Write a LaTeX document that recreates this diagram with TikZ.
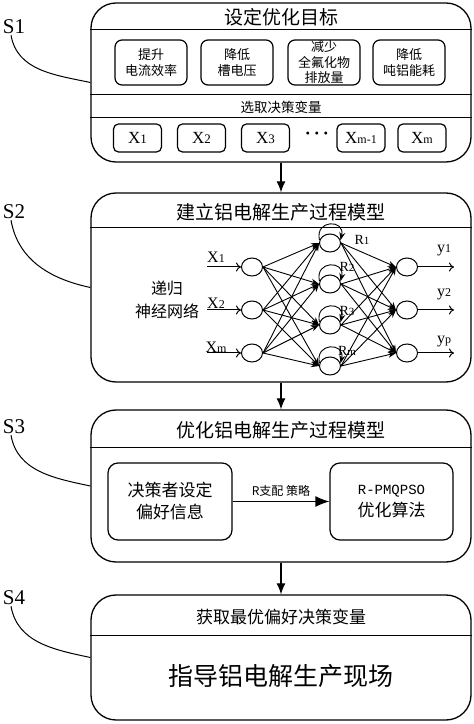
\documentclass[tikz,border=0pt]{standalone}
\usepackage{fontspec}
\setmainfont{Liberation Serif}
\newfontfamily\cjk{Noto Sans CJK SC}
\newfontfamily\monofnt{Liberation Mono}
\usetikzlibrary{shapes.geometric,arrows.meta}
\begin{document}
\begin{tikzpicture}[x=1pt,y=1pt,
  mainbox/.style={draw, line width=1.3pt, rounded corners=25pt, inner sep=0pt, minimum width=380pt},
  innerbox/.style={draw, line width=1.2pt, rounded corners=7pt, align=center, inner sep=0pt},
  goalbox/.style={innerbox, minimum width=72pt, minimum height=45pt, font=\cjk\fontsize{13}{15.5}\selectfont},
  xbox/.style={innerbox, rounded corners=5pt, minimum width=48pt, minimum height=28pt, font=\fontsize{17}{17}\selectfont},
  title/.style={font=\cjk\fontsize{19}{22}\selectfont},
  neuron/.style={draw, ellipse, minimum width=21pt, minimum height=18pt, inner sep=0pt, line width=1pt},
  flow/.style={-{Latex[length=11pt,width=9pt]}, line width=1.2pt},
  net/.style={-{Stealth[length=8pt,width=6pt]}, line width=0.9pt},
  io/.style={-{To[length=5pt,width=9pt]}, line width=1pt},
  steplbl/.style={font=\fontsize{21}{21}\selectfont, inner sep=1pt},
  lead/.style={line width=1pt},
  netlbl/.style={font=\fontsize{16}{16}\selectfont, inner sep=0pt},
  rlbl/.style={font=\fontsize{14}{14}\selectfont, inner sep=0pt}
]
\useasboundingbox (0,0) rectangle (474,724);
\fill[white] (0,0) rectangle (474,724);

% ---------- S1 ----------
\node[mainbox, minimum height=159pt] (b1) at (281,641.5) {};
\node[title] (t1) at (281,707) {设定优化目标};
\draw[line width=1.2pt] ([yshift=-27pt]b1.north west) -- ([yshift=-27pt]b1.north east);
\draw[line width=1.2pt] ([yshift=-92pt]b1.north west) -- ([yshift=-92pt]b1.north east);
\draw[line width=1.2pt] ([yshift=-115pt]b1.north west) -- ([yshift=-115pt]b1.north east);
\node[goalbox] (g1) at (151,661.5) {提升\\电流效率};
\node[goalbox] (g2) at (237,661.5) {降低\\槽电压};
\node[goalbox] (g3) at (324,661.5) {减少\\全氟化物\\排放量};
\node[goalbox] (g4) at (409,661.5) {降低\\吨铝能耗};
\node[font=\cjk\fontsize{13.5}{15}\selectfont] (t1b) at (281,617) {选取决策变量};
\node[xbox] (x1) at (137.5,586) {X{\fontsize{13}{13}\selectfont 1}};
\node[xbox] (x2) at (201.5,586) {X{\fontsize{13}{13}\selectfont 2}};
\node[xbox] (x3) at (265.5,586) {X{\fontsize{13}{13}\selectfont 3}};
\node[font=\bfseries\fontsize{18}{18}\selectfont, inner sep=0pt] (xd) at (317,588) {·\,·\,·};
\node[xbox] (x4) at (361,586) {X{\fontsize{12}{12}\selectfont m-1}};
\node[xbox] (x5) at (422,586) {X{\fontsize{12}{12}\selectfont m}};
\node[steplbl] (s1) at (14,697) {S1};
\draw[lead] ([xshift=-3pt]s1.south) to[out=-80,in=168] (b1.west);

% ---------- S2 ----------
\node[mainbox, minimum height=189pt] (b2) at (281,436.5) {};
\node[title] (t2) at (281,512) {建立铝电解生产过程模型};
\draw[line width=1.2pt] ([yshift=-35pt]b2.north west) -- ([yshift=-35pt]b2.north east);
\node[font=\cjk\fontsize{16}{23}\selectfont, align=center] (rnn) at (167,424) {递归\\神经网络};
\node[neuron] (i1) at (252,457) {};
\node[neuron] (i2) at (252,414) {};
\node[neuron] (i3) at (252,371) {};
\node[neuron] (h1) at (330,481) {};
\node[neuron] (h2) at (330,440) {};
\node[neuron] (h3) at (330,399) {};
\node[neuron] (h4) at (330,358) {};
\node[neuron] (o1) at (407,457) {};
\node[neuron] (o2) at (407,414) {};
\node[neuron] (o3) at (407,371) {};
\coordinate (ia1) at (207,457);
\coordinate (ia2) at (207,414);
\coordinate (ia3) at (207,371);
\coordinate (oa1) at (454,457);
\coordinate (oa2) at (454,414);
\coordinate (oa3) at (454,371);
\foreach \k in {1,2,3} {
  \draw[io] (ia\k) -- (i\k);
  \draw[io] (o\k) -- (oa\k);
}
\foreach \a in {1,2,3} {
  \foreach \b in {1,2,3,4} {
    \draw[net] (i\a.east) -- (h\b.west);
    \draw[net] (h\b.east) -- (o\a.west);
  }
}
\foreach \b in {1,2,3,4} {
  \draw[net] (h\b.165) .. controls +(-5,21) and +(5,21) .. (h\b.15);
}
\node[netlbl] (lx1) at (216,467) {X{\fontsize{12}{12}\selectfont 1}};
\node[netlbl] (lx2) at (216,421) {X{\fontsize{12}{12}\selectfont 2}};
\node[netlbl] (lx3) at (216,377) {X{\fontsize{12}{12}\selectfont m}};
\node[netlbl] (ly1) at (444,474) {y{\fontsize{12}{12}\selectfont 1}};
\node[netlbl] (ly2) at (444,430) {y{\fontsize{12}{12}\selectfont 2}};
\node[netlbl] (ly3) at (444,382) {y{\fontsize{12}{12}\selectfont p}};
\node[rlbl] (r1) at (362,484) {R{\fontsize{11}{11}\selectfont 1}};
\node[rlbl] (r2) at (347,457) {R{\fontsize{11}{11}\selectfont 2}};
\node[rlbl] (r3) at (347,413) {R{\fontsize{11}{11}\selectfont 3}};
\node[rlbl] (r4) at (347,373) {R{\fontsize{11}{11}\selectfont m}};
\node[steplbl] (s2) at (14,512) {S2};
\draw[lead] ([xshift=-3pt]s2.south) to[out=-80,in=168] (b2.west);

% ---------- S3 ----------
\node[mainbox, minimum height=152pt] (b3) at (281,238) {};
\node[title] (t3) at (281,294) {优化铝电解生产过程模型};
\draw[line width=1.2pt] ([yshift=-38pt]b3.north west) -- ([yshift=-38pt]b3.north east);
\node[innerbox, rounded corners=10pt, minimum width=124pt, minimum height=77pt, font=\cjk\fontsize{17}{22}\selectfont] (l3) at (170,222.5) {决策者设定\\偏好信息};
\node[innerbox, rounded corners=10pt, minimum width=123pt, minimum height=77pt, font=\cjk\fontsize{17}{22}\selectfont] (m3) at (391.5,222.5) {{\monofnt\fontsize{14}{14}\selectfont R-PMQPSO}\\优化算法};
\draw[-{Latex[length=14pt,width=11pt]}, line width=1.2pt] (l3.east) -- (m3.west) node[midway, above=4pt, font=\cjk\fontsize{12}{12}\selectfont, inner sep=0pt] (rs) {R支配 策略};
\node[steplbl] (s3) at (14,297) {S3};
\draw[lead] ([xshift=-3pt]s3.south) to[out=-80,in=168] (b3.west);

% ---------- S4 ----------
\node[mainbox, minimum height=125pt] (b4) at (281,66.5) {};
\node[font=\cjk\fontsize{17}{20}\selectfont] (t4) at (281,107) {获取最优偏好决策变量};
\draw[line width=1.2pt] ([yshift=-41pt]b4.north west) -- ([yshift=-41pt]b4.north east);
\node[font=\cjk\fontsize{25}{28}\selectfont] (g4t) at (281,48) {指导铝电解生产现场};
\node[steplbl] (s4) at (14,126) {S4};
\draw[lead] ([xshift=-3pt]s4.south) to[out=-80,in=168] (b4.west);

% ---------- flow ----------
\draw[flow] (b1.south) -- (b2.north);
\draw[flow] (b2.south) -- (b3.north);
\draw[flow] (b3.south) -- (b4.north);
\end{tikzpicture}
\end{document}
